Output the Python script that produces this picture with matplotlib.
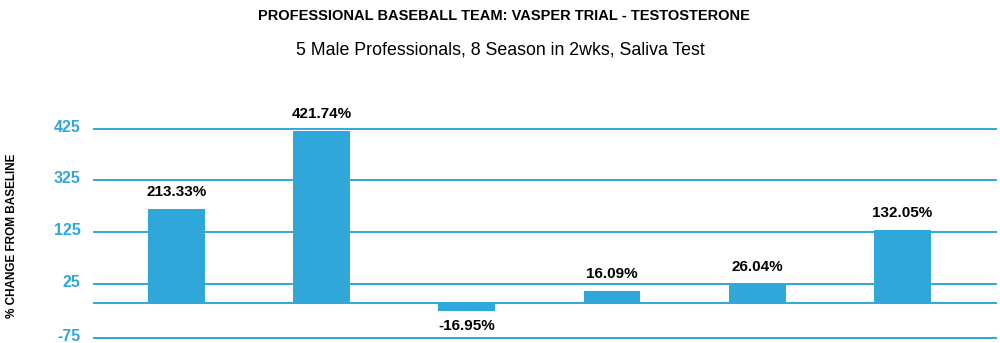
import numpy as np
import matplotlib
matplotlib.use("Agg")
import matplotlib.pyplot as plt
from matplotlib import transforms

# Data
subjects = ["P1", "P2", "P3", "P4", "P5", "P6"]
pct_change = [213.33, 421.74, -16.95, 16.09, 26.04, 132.05]
tick_values = [-75, 25, 125, 325, 425]
tick_labels = ["-75", "25", "125", "325", "425"]

# axis in the original has evenly spaced (non-linear) gridlines
scale_vals = [-175, -75, 0, 25, 125, 325, 425, 525]
scale_slots = [-1.0, 0.0, 0.67, 1.03, 2.03, 3.02, 4.0, 5.0]

def fwd(v):
    return np.interp(v, scale_vals, scale_slots)

def inv(s):
    return np.interp(s, scale_slots, scale_vals)

blue = "#2fa7da"

fig = plt.figure(figsize=(10, 3.43), dpi=100)
ax = fig.add_axes([0.093, 0.007, 0.904, 0.6245])
ax.set_yscale("function", functions=(fwd, inv))

x = np.arange(len(subjects))
bars = ax.bar(x, pct_change, width=0.393, color=blue, zorder=3)

ax.set_xlim(-0.579, 5.655)
ax.set_ylim(-80, 430)

ax.set_yticks(tick_values)
ax.set_yticklabels(tick_labels)
ax.yaxis.set_minor_locator(matplotlib.ticker.NullLocator())
ax.tick_params(axis="y", length=0, pad=9, labelcolor=blue, labelsize=11.5)
shift = transforms.ScaledTranslation(0, 3 / 100, fig.dpi_scale_trans)
for lab in ax.get_yticklabels():
    lab.set_fontweight("bold")
    lab.set_fontfamily("Liberation Sans")
    lab.set_transform(lab.get_transform() + shift)
ax.set_xticks([])

for v in tick_values:
    ax.axhline(v, color=blue, lw=1.4, zorder=1)
ax.axhline(0, color=blue, lw=1.4, zorder=2)

for s in ax.spines.values():
    s.set_visible(False)

# value labels above / below the bars
for b, v in zip(bars, pct_change):
    off = 17 if v >= 0 else -15
    ax.annotate(f"{v:.2f}%", (b.get_x() + b.get_width() / 2, v),
                xytext=(0, off * 0.72), textcoords="offset points",
                ha="center", va="center", fontsize=11, fontweight="bold",
                family="Liberation Sans", annotation_clip=False)

fig.text(0.504, 0.953, "PROFESSIONAL BASEBALL TEAM: VASPER TRIAL - TESTOSTERONE",
         ha="center", va="center", fontsize=10.5, fontweight="bold", family="Liberation Sans")
fig.text(0.5, 0.854, "5 Male Professionals, 8 Season in 2wks, Saliva Test",
         ha="center", va="center", fontsize=12.8, family="Liberation Sans")
fig.text(0.012, 0.312, "% CHANGE FROM BASELINE", rotation=90,
         ha="center", va="center", fontsize=8.5, fontweight="bold", family="Liberation Sans")

fig.savefig("out.png", dpi=100)
